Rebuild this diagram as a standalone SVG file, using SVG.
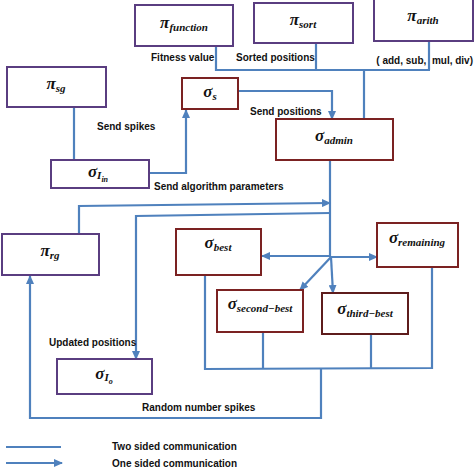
<svg xmlns="http://www.w3.org/2000/svg" width="474" height="470" viewBox="0 0 474 470">
<style>
.bp{fill:#fff;stroke:#5a3d80;stroke-width:2}
.bm{fill:#fff;stroke:#7b2222;stroke-width:2}
.c{fill:none;stroke:#4f81bd;stroke-width:2.2}
.lb{font-family:"Liberation Sans",Arial,sans-serif;font-weight:bold;font-size:10px;fill:#111}
.m{font-family:"Liberation Serif","DejaVu Serif",serif;font-weight:bold;font-style:italic;font-size:17px;fill:#111}
.s{font-size:11px}
.ss{font-size:8px}
</style>
<defs>
<marker id="ar" markerUnits="userSpaceOnUse" markerWidth="9" markerHeight="8" refX="8" refY="4" orient="auto-start-reverse">
<path d="M0,0 L9,4 L0,8 z" fill="#4f81bd"/>
</marker>
</defs>
<g id="connectors">
<polyline class="c" points="216,46 216,70 430,70"/>
<line class="c" x1="316" y1="43" x2="316" y2="70"/>
<line class="c" x1="429" y1="41" x2="429" y2="70"/>
<line class="c" x1="364" y1="70" x2="364" y2="119"/>
<polyline class="c" points="238,91 332,91 332,119" marker-end="url(#ar)"/>
<line class="c" x1="74" y1="107" x2="74" y2="160"/>
<polyline class="c" points="149,173 186,173 186,110" marker-end="url(#ar)"/>
<line class="c" x1="330" y1="160" x2="330" y2="257"/>
<polyline class="c" points="79,234 79,206 330,203" marker-end="url(#ar)"/>
<polyline class="c" points="330,213 136,216 136,359" marker-end="url(#ar)"/>
<line class="c" x1="331" y1="256" x2="262" y2="256" marker-end="url(#ar)"/>
<line class="c" x1="331" y1="257" x2="377" y2="257" marker-end="url(#ar)"/>
<line class="c" x1="331" y1="257" x2="300" y2="290" marker-end="url(#ar)"/>
<line class="c" x1="331" y1="257" x2="333" y2="293" marker-end="url(#ar)"/>
<polyline class="c" points="205,275 205,369 432,368 432,267"/>
<line class="c" x1="263" y1="332" x2="263" y2="368"/>
<line class="c" x1="371" y1="334" x2="371" y2="368"/>
<polyline class="c" points="321,368 321,418 30,418 30,276" marker-end="url(#ar)"/>
<line class="c" x1="6" y1="447" x2="61" y2="447"/>
<line class="c" x1="6" y1="463" x2="62" y2="463" marker-end="url(#ar)"/>
</g>
<g id="pi_function"><rect class="bp" x="135" y="5" width="98" height="41"/><text class="m" x="184" y="28" text-anchor="middle">π<tspan class="s" dy="3">function</tspan></text></g>
<g id="pi_sort"><rect class="bp" x="254" y="3" width="99" height="40"/><text class="m" x="303" y="25" text-anchor="middle">π<tspan class="s" dy="3">sort</tspan></text></g>
<g id="pi_arith"><rect class="bp" x="374" y="-1" width="99" height="42"/><text class="m" x="423" y="21" text-anchor="middle">π<tspan class="s" dy="3">arith</tspan></text></g>
<g id="pi_sg"><rect class="bp" x="7" y="67" width="99" height="40"/><text class="m" x="56" y="89" text-anchor="middle">π<tspan class="s" dy="3">sg</tspan></text></g>
<g id="sigma_s"><rect class="bm" x="182" y="78" width="56" height="31"/><text class="m" x="210" y="97" text-anchor="middle">σ<tspan class="s" dy="3">s</tspan></text></g>
<g id="sigma_admin"><rect class="bm" x="276" y="119" width="117" height="41"/><text class="m" x="334" y="141" text-anchor="middle">σ<tspan class="s" dy="3">admin</tspan></text></g>
<g id="sigma_Iin"><rect class="bp" x="51" y="160" width="98" height="28"/><text class="m" x="98" y="177" text-anchor="middle">σ<tspan class="s" dy="2">I</tspan><tspan class="ss" dy="3">in</tspan></text></g>
<g id="pi_rg"><rect class="bp" x="2" y="234" width="97" height="41"/><text class="m" x="50" y="256" text-anchor="middle">π<tspan class="s" dy="3">rg</tspan></text></g>
<g id="sigma_best"><rect class="bm" x="176" y="229" width="85" height="46"/><text class="m" x="218" y="248" text-anchor="middle">σ<tspan class="s" dy="3">best</tspan></text></g>
<g id="sigma_remaining"><rect class="bm" x="377" y="223" width="81" height="44"/><text class="m" x="417" y="243" text-anchor="middle">σ<tspan class="s" dy="3">remaining</tspan></text></g>
<g id="sigma_second_best"><rect class="bm" x="217" y="290" width="86" height="42"/><text class="m" x="260" y="309" text-anchor="middle">σ<tspan class="s" dy="3">second−best</tspan></text></g>
<g id="sigma_third_best"><rect class="bm" x="322" y="293" width="86" height="41" style="stroke:#5e1c1c"/><text class="m" x="365" y="314" text-anchor="middle">σ<tspan class="s" dy="3">third−best</tspan></text></g>
<g id="sigma_Io"><rect class="bp" x="57" y="359" width="95" height="35"/><text class="m" x="104" y="379" text-anchor="middle">σ<tspan class="s" dy="2">I</tspan><tspan class="ss" dy="3">o</tspan></text></g>
<g id="labels">
<text class="lb" x="151" y="61">Fitness value</text>
<text class="lb" x="236" y="61">Sorted positions</text>
<text class="lb" x="473" y="64" text-anchor="end" xml:space="preserve">( add, sub,  mul, div)</text>
<text class="lb" x="97" y="130">Send spikes</text>
<text class="lb" x="250" y="115">Send positions</text>
<text class="lb" x="154" y="190">Send algorithm parameters</text>
<text class="lb" x="49" y="346">Updated positions</text>
<text class="lb" x="142" y="411">Random number spikes</text>
<text class="lb" x="112" y="450">Two sided communication</text>
<text class="lb" x="112" y="467">One sided communication</text>
</g>
</svg>
